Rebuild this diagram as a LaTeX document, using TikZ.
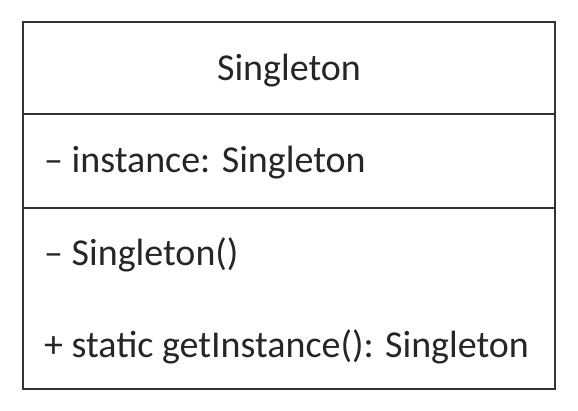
\documentclass[tikz,border=0pt]{standalone}
\usepackage{fontspec}
\setmainfont{Carlito}
\begin{document}
\begin{tikzpicture}[x=1pt,y=-1pt,
  boxline/.style={draw=black!80,line width=1.5pt},
  lbl/.style={inner sep=0pt,anchor=base west,font=\fontsize{38}{40}\selectfont,text=black!85}]
\useasboundingbox (0,0) rectangle (578,410);
\draw[boxline] (23,22) rectangle (555,389);
\coordinate (d1l) at (23,114); \coordinate (d1r) at (555,114);
\coordinate (d2l) at (23,208); \coordinate (d2r) at (555,208);
\draw[boxline] (d1l) -- (d1r);
\draw[boxline] (d2l) -- (d2r);
\node[lbl,anchor=base] (title) at (289,80) {Singleton};
\node[lbl] (attr) at (44,172) {– instance: Singleton};
\node[lbl] (op1) at (44,265) {– Singleton()};
\node[lbl] (op2) at (44,357) {+ static getInstance(): Singleton};
\end{tikzpicture}
\end{document}
